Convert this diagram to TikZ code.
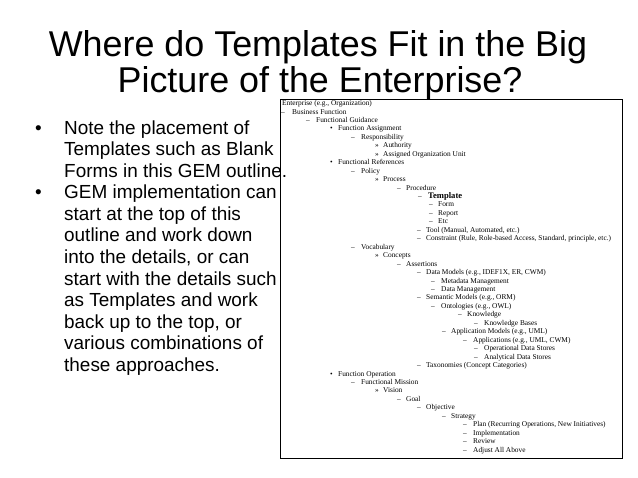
\documentclass[tikz,border=0pt]{standalone}
\usepackage{fontspec}
\setmainfont{Liberation Serif}
\newfontfamily\arialf{Liberation Sans}
\tikzset{
  ol/.style={anchor=base west,inner sep=0pt,font=\fontsize{7.4}{8}\selectfont},
  ttl/.style={anchor=base,inner sep=0pt,font=\arialf\fontsize{36}{40}\selectfont},
  bul/.style={anchor=base west,inner sep=0pt,font=\arialf\fontsize{19}{21.6}\selectfont}
}
\newcommand{\oln}[6]{%
  \ifx&#3&\else\node[ol] (s#1) at (#2,{105.6+(#5-1)*8.45}) {#3};\fi
  \node[ol] (#1) at (#4,{105.6+(#5-1)*8.45}) {#6};}
\newcommand{\bl}[3]{\node[bul] (#1) at (64,{134.5+(#2-1)*21.5}) {#3};}
\begin{document}
\begin{tikzpicture}[x=1bp,y=-1bp]
\useasboundingbox (0,0) rectangle (638,478);
\fill[white] (0,0) rectangle (638,478);
\node[draw,line width=1.1pt,minimum width=342bp,minimum height=359bp,inner sep=0pt,anchor=north west] (box) at (280,99) {};
\node[ttl] (t1) at (318,57) {Where do Templates Fit in the Big};
\node[ttl] (t2) at (320,93) {Picture of the Enterprise?};
\bl{b1}{1}{Note the placement of}
\bl{b2}{2}{Templates such as Blank}
\bl{b3}{3}{Forms in this GEM outline.}
\bl{b4}{4}{GEM implementation can}
\bl{b5}{5}{start at the top of this}
\bl{b6}{6}{outline and work down}
\bl{b7}{7}{into the details, or can}
\bl{b8}{8}{start with the details such}
\bl{b9}{9}{as Templates and work}
\bl{b10}{10}{back up to the top, or}
\bl{b11}{11}{various combinations of}
\bl{b12}{12}{these approaches.}
\node[bul] (d1) at (35,134.5) {•};
\node[bul] (d2) at (35,199) {•};
\oln{l1}{0}{}{282}{1}{Enterprise (e.g., Organization)}
\oln{l2}{281}{–}{292}{2}{Business Function}
\oln{l3}{306}{–}{316}{3}{Functional Guidance}
\oln{l4}{330}{•}{338}{4}{Function Assignment}
\oln{l5}{351}{–}{361}{5}{Responsibility}
\oln{l6}{375}{»}{383}{6}{Authority}
\oln{l7}{375}{»}{383}{7}{Assigned Organization Unit}
\oln{l8}{330}{•}{338}{8}{Functional References}
\oln{l9}{351}{–}{361}{9}{Policy}
\oln{l10}{375}{»}{383}{10}{Process}
\oln{l11}{397}{–}{406}{11}{Procedure}
\node[ol] (sl12) at (418,{105.8+11*8.45}) {–};
\node[ol,font=\bfseries\fontsize{8.6}{9}\selectfont] (l12) at (428,{105.8+11*8.45}) {Template};
\oln{l13}{429}{–}{438}{13}{Form}
\oln{l14}{429}{–}{438}{14}{Report}
\oln{l15}{429}{–}{438}{15}{Etc}
\oln{l16}{417}{–}{426}{16}{Tool (Manual, Automated, etc.)}
\oln{l17}{417}{–}{426}{17}{Constraint (Rule, Role-based Access, Standard, principle, etc.)}
\oln{l18}{351}{–}{361}{18}{Vocabulary}
\oln{l19}{375}{»}{383}{19}{Concepts}
\oln{l20}{397}{–}{406}{20}{Assertions}
\oln{l21}{417}{–}{426}{21}{Data Models (e.g., IDEF1X, ER, CWM)}
\oln{l22}{431}{–}{441}{22}{Metadata Management}
\oln{l23}{431}{–}{441}{23}{Data Management}
\oln{l24}{417}{–}{426}{24}{Semantic Models (e.g., ORM)}
\oln{l25}{431}{–}{441}{25}{Ontologies (e.g., OWL)}
\oln{l26}{458}{–}{467}{26}{Knowledge}
\oln{l27}{474}{–}{484}{27}{Knowledge Bases}
\oln{l28}{442}{–}{451}{28}{Application Models (e.g., UML)}
\oln{l29}{463}{–}{473}{29}{Applications (e.g., UML, CWM)}
\oln{l30}{474}{–}{484}{30}{Operational Data Stores}
\oln{l31}{474}{–}{484}{31}{Analytical Data Stores}
\oln{l32}{417}{–}{426}{32}{Taxonomies (Concept Categories)}
\oln{l33}{330}{•}{338}{33}{Function Operation}
\oln{l34}{351}{–}{361}{34}{Functional Mission}
\oln{l35}{375}{»}{383}{35}{Vision}
\oln{l36}{397}{–}{406}{36}{Goal}
\oln{l37}{417}{–}{426}{37}{Objective}
\oln{l38}{442}{–}{451}{38}{Strategy}
\oln{l39}{463}{–}{473}{39}{Plan (Recurring Operations, New Initiatives)}
\oln{l40}{463}{–}{473}{40}{Implementation}
\oln{l41}{463}{–}{473}{41}{Review}
\oln{l42}{463}{–}{473}{42}{Adjust All Above}
\end{tikzpicture}
\end{document}
